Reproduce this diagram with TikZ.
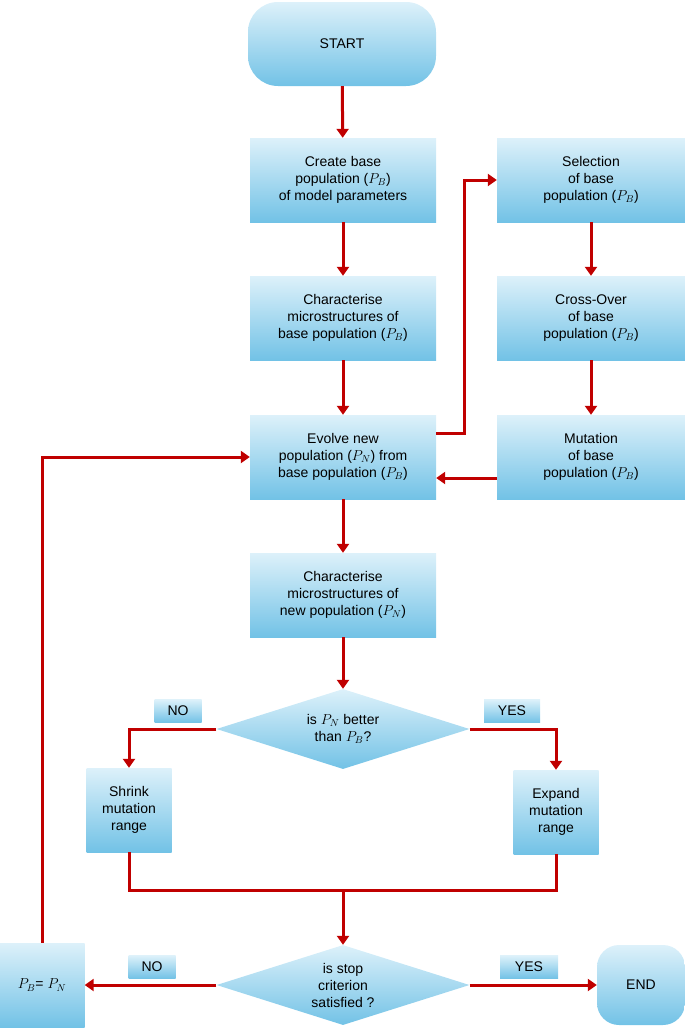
\documentclass[tikz,border=0pt]{standalone}
\usepackage{fontspec}
\setmainfont{Liberation Sans}
\usetikzlibrary{shapes.geometric,arrows.meta}
\definecolor{lt}{HTML}{DDF1FA}
\definecolor{dk}{HTML}{72C2E6}
\definecolor{ar}{HTML}{C00000}
\begin{document}
\begin{tikzpicture}[x=1pt,y=-1pt,
 box/.style={draw=none,top color=lt,bottom color=dk,minimum width=186pt,minimum height=84pt,align=center,font=\fontsize{14}{17}\selectfont,inner sep=0},
 sbox/.style={box,minimum width=85pt,minimum height=84pt},
 lab/.style={box,minimum width=47pt,minimum height=23pt},
 dia/.style={draw=none,diamond,aspect=3.15,top color=lt,bottom color=dk,minimum width=253pt,minimum height=80pt,inner sep=0,align=center,font=\fontsize{14}{17}\selectfont},
 ln/.style={draw=ar,line width=3pt},
 arr/.style={ln,-{Triangle[length=9pt,width=12pt]}}]
\useasboundingbox (0,0) rectangle (685,1028);
\node[box,rounded corners=30pt,minimum width=188pt] (start) at (342,44) {START};
\node[box] (create) at (343,180) {Create base\\population ($P_B$)\\of model parameters};
\node[box] (ch1) at (343,318) {Characterise\\microstructures of\\base population ($P_B$)};
\node[box] (evo) at (343,457) {Evolve new\\population ($P_N$) from\\base population ($P_B$)};
\node[box,minimum width=188pt] (sel) at (591,180) {Selection\\of base\\population ($P_B$)};
\node[box,minimum width=188pt] (cro) at (591,318) {Cross-Over\\of base\\population ($P_B$)};
\node[box,minimum width=188pt] (mut) at (591,457) {Mutation\\of base\\population ($P_B$)};
\node[box] (ch2) at (343,595) {Characterise\\microstructures of\\new population ($P_N$)};
\node[dia] (d1) at (343,729) {is $P_N$ better\\than $P_B$?};
\node[lab] (no1) at (178,711) {NO};
\node[lab,minimum width=56pt] (yes1) at (512,711) {YES};
\node[sbox] (shr) at (129,810) {Shrink\\mutation\\range};
\node[sbox] (exp) at (556,812) {Expand\\mutation\\range};
\node[dia] (d2) at (343,985) {is stop\\criterion\\satisfied ?};
\node[sbox] (pb) at (42,985) {$P_B$= $P_N$};
\node[lab] (no2) at (152,967) {NO};
\node[lab,minimum width=58pt] (yes2) at (529,967) {YES};
\node[sbox,rounded corners=22pt,minimum width=88pt,minimum height=80pt] (end) at (641,985) {END};
\coordinate (m) at (343,890);
\draw[arr] (start) -- (create);
\draw[arr] (create) -- (ch1);
\draw[arr] (ch1) -- (evo);
\draw[arr] (evo) -- (ch2);
\draw[arr] (ch2) -- (d1);
\draw[arr] (sel) -- (cro);
\draw[arr] (cro) -- (mut);
\draw[arr] (evo.east |- 0,433) -| (464,180) -- (sel.west);
\draw[arr] (mut.west |- 0,478) -- (evo.east |- 0,478);
\draw[arr] (d1.west) -| (shr.north);
\draw[arr] (d1.east) -| (exp.north);
\draw[ln] (shr.south) |- (m) -| (exp.south);
\draw[arr] (m) -- (d2.north);
\draw[arr] (d2.west) -- (pb.east);
\draw[arr] (d2.east) -- (end.west);
\draw[arr] (pb.north) |- (evo.west |- 0,457);
\end{tikzpicture}
\end{document}
